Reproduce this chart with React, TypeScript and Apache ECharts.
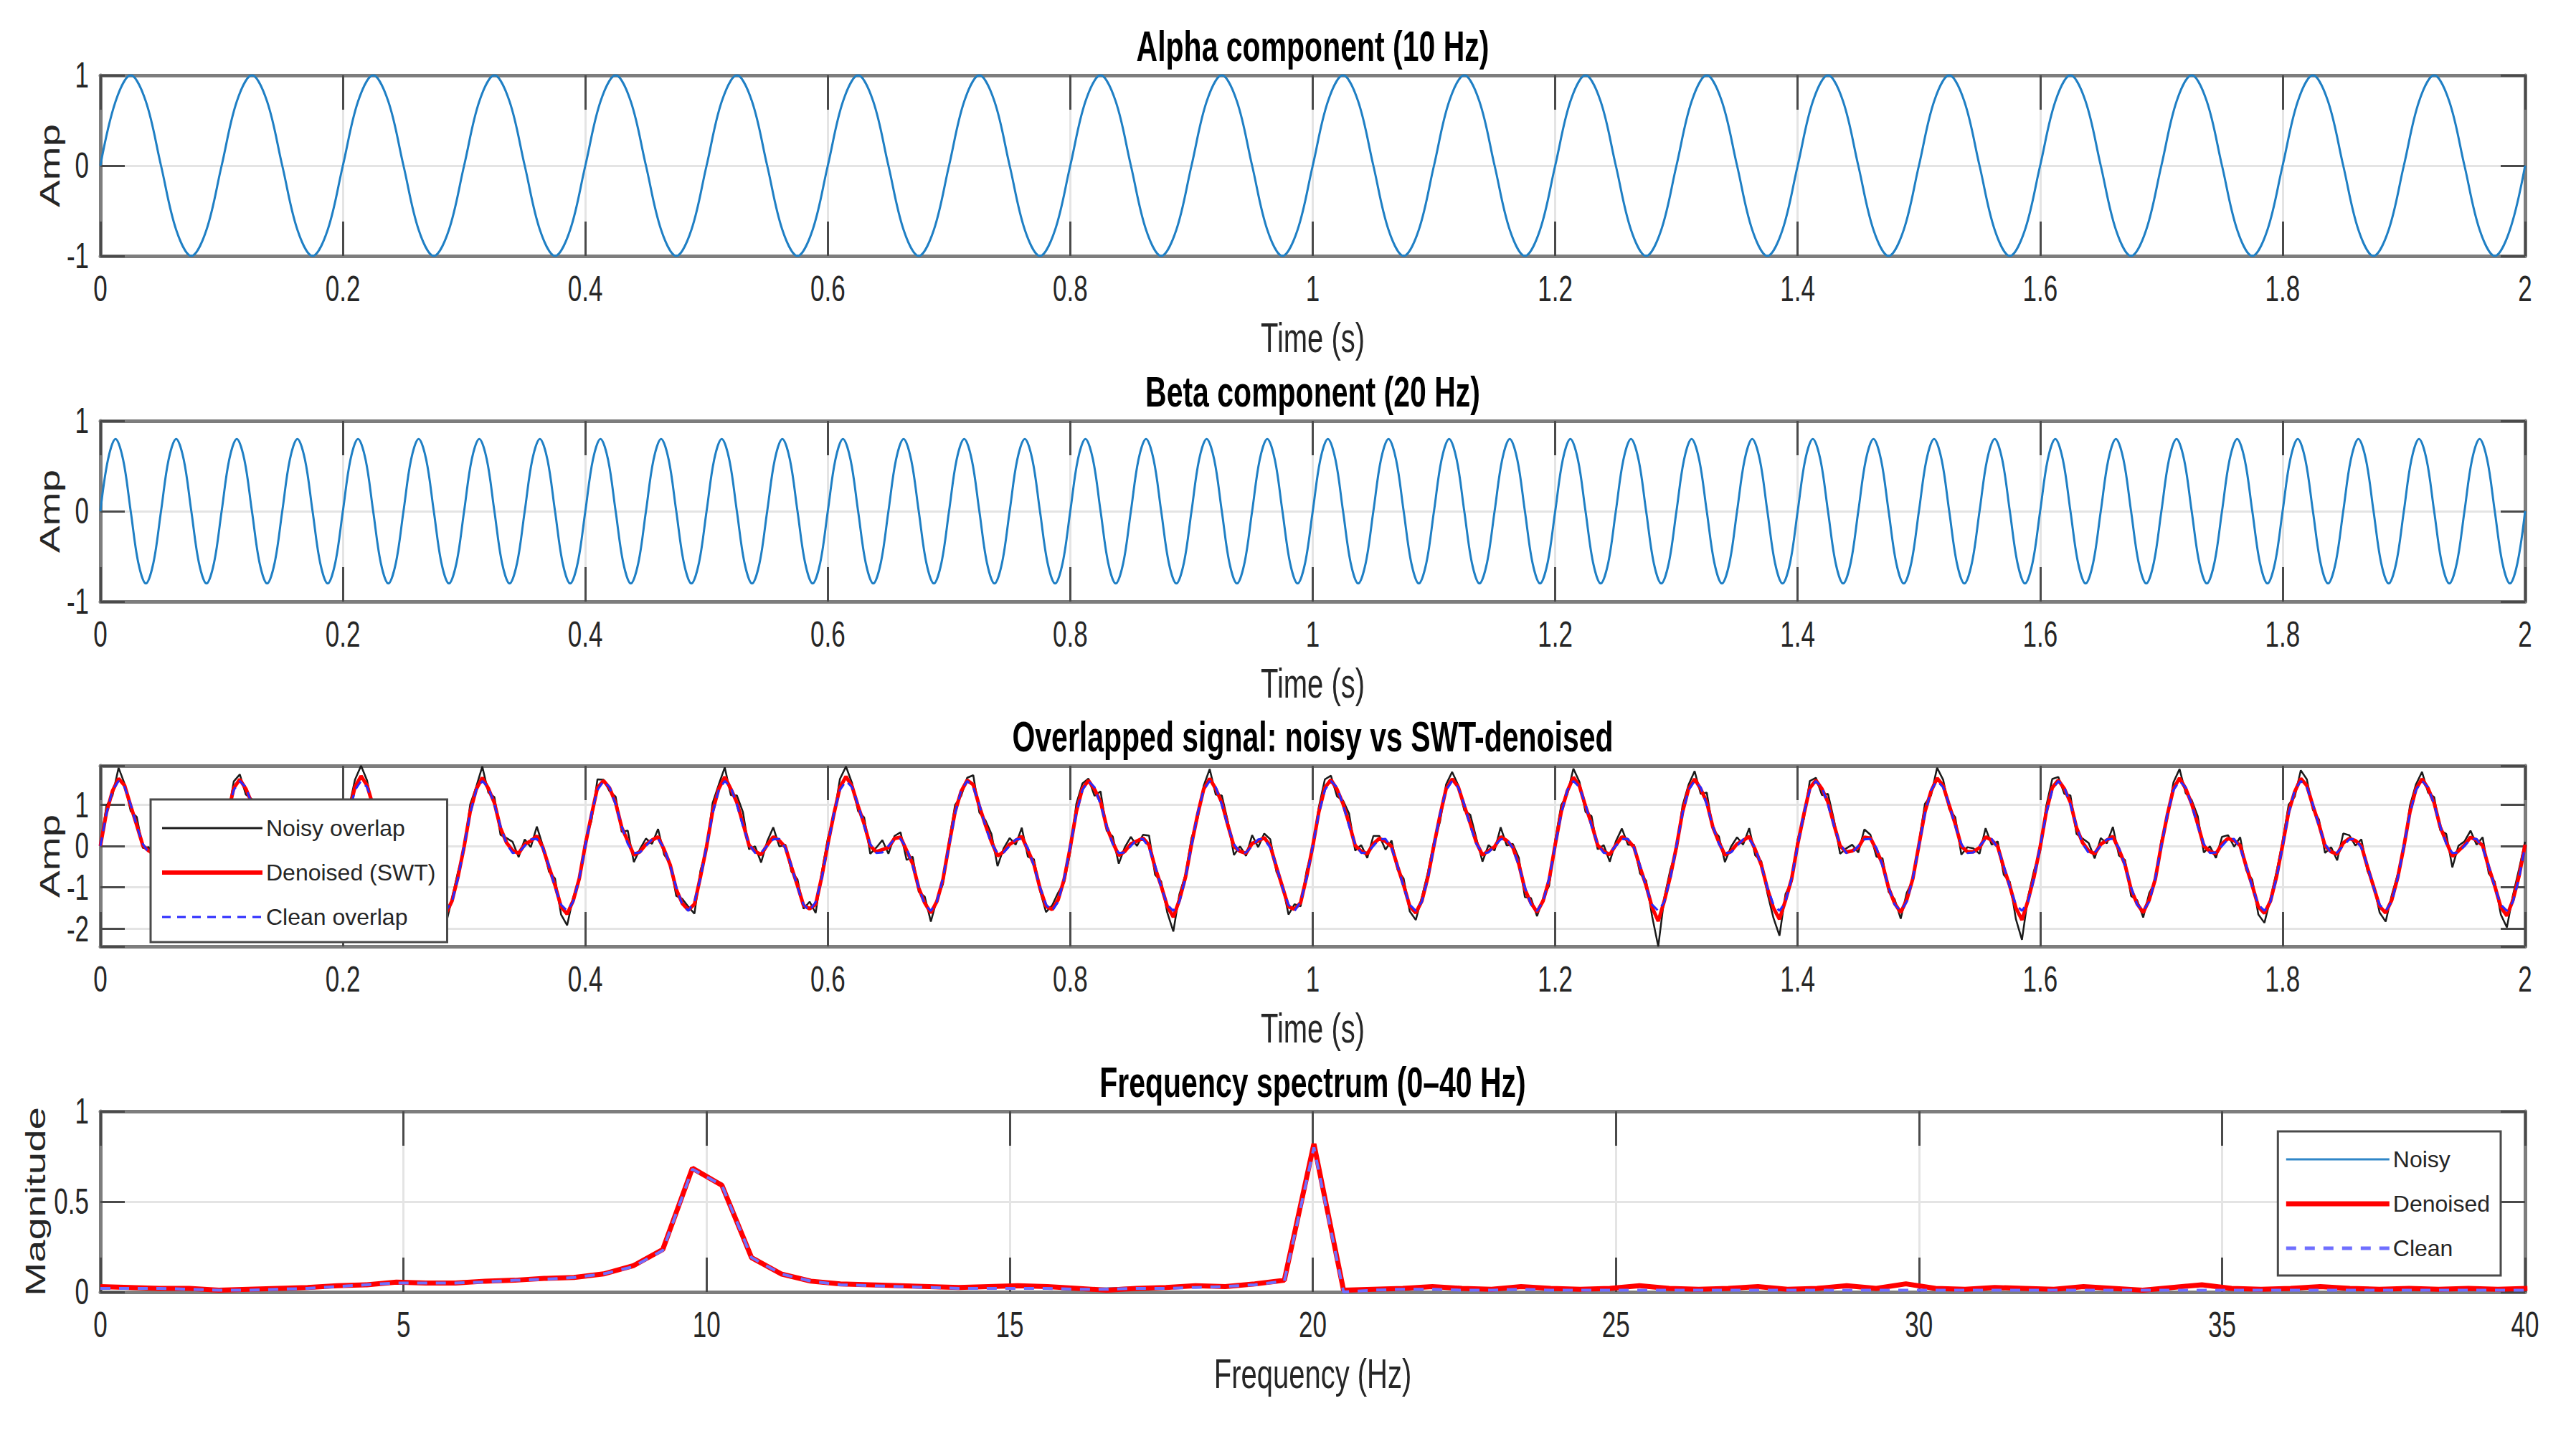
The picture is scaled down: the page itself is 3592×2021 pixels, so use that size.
import React, { useEffect, useRef } from "react";
import * as echarts from "echarts";

// ---------------- data ----------------
// Alpha component, 10 Hz, sampled every 1/8 period
const ALPHA_DT = 0.0125;
const ALPHA = [
  0,0.71,1,0.71,0,-0.71,-1,-0.71, 0,0.71,1,0.71,0,-0.71,-1,-0.71, 0,0.71,1,0.71,0,-0.71,-1,-0.71, 0,0.71,1,0.71,0,-0.71,-1,-0.71,
  0,0.71,1,0.71,0,-0.71,-1,-0.71, 0,0.71,1,0.71,0,-0.71,-1,-0.71, 0,0.71,1,0.71,0,-0.71,-1,-0.71, 0,0.71,1,0.71,0,-0.71,-1,-0.71,
  0,0.71,1,0.71,0,-0.71,-1,-0.71, 0,0.71,1,0.71,0,-0.71,-1,-0.71, 0,0.71,1,0.71,0,-0.71,-1,-0.71, 0,0.71,1,0.71,0,-0.71,-1,-0.71,
  0,0.71,1,0.71,0,-0.71,-1,-0.71, 0,0.71,1,0.71,0,-0.71,-1,-0.71, 0,0.71,1,0.71,0,-0.71,-1,-0.71, 0,0.71,1,0.71,0,-0.71,-1,-0.71,
  0,0.71,1,0.71,0,-0.71,-1,-0.71, 0,0.71,1,0.71,0,-0.71,-1,-0.71, 0,0.71,1,0.71,0,-0.71,-1,-0.71, 0,0.71,1,0.71,0,-0.71,-1,-0.71,
  0,
];

// Beta component, 20 Hz, amplitude 0.8, sampled every 1/8 period
const BETA_DT = 0.00625;
const BETA = [
  0,0.57,0.8,0.57,0,-0.57,-0.8,-0.57, 0,0.57,0.8,0.57,0,-0.57,-0.8,-0.57, 0,0.57,0.8,0.57,0,-0.57,-0.8,-0.57, 0,0.57,0.8,0.57,0,-0.57,-0.8,-0.57,
  0,0.57,0.8,0.57,0,-0.57,-0.8,-0.57, 0,0.57,0.8,0.57,0,-0.57,-0.8,-0.57, 0,0.57,0.8,0.57,0,-0.57,-0.8,-0.57, 0,0.57,0.8,0.57,0,-0.57,-0.8,-0.57,
  0,0.57,0.8,0.57,0,-0.57,-0.8,-0.57, 0,0.57,0.8,0.57,0,-0.57,-0.8,-0.57, 0,0.57,0.8,0.57,0,-0.57,-0.8,-0.57, 0,0.57,0.8,0.57,0,-0.57,-0.8,-0.57,
  0,0.57,0.8,0.57,0,-0.57,-0.8,-0.57, 0,0.57,0.8,0.57,0,-0.57,-0.8,-0.57, 0,0.57,0.8,0.57,0,-0.57,-0.8,-0.57, 0,0.57,0.8,0.57,0,-0.57,-0.8,-0.57,
  0,0.57,0.8,0.57,0,-0.57,-0.8,-0.57, 0,0.57,0.8,0.57,0,-0.57,-0.8,-0.57, 0,0.57,0.8,0.57,0,-0.57,-0.8,-0.57, 0,0.57,0.8,0.57,0,-0.57,-0.8,-0.57,
  0,0.57,0.8,0.57,0,-0.57,-0.8,-0.57, 0,0.57,0.8,0.57,0,-0.57,-0.8,-0.57, 0,0.57,0.8,0.57,0,-0.57,-0.8,-0.57, 0,0.57,0.8,0.57,0,-0.57,-0.8,-0.57,
  0,0.57,0.8,0.57,0,-0.57,-0.8,-0.57, 0,0.57,0.8,0.57,0,-0.57,-0.8,-0.57, 0,0.57,0.8,0.57,0,-0.57,-0.8,-0.57, 0,0.57,0.8,0.57,0,-0.57,-0.8,-0.57,
  0,0.57,0.8,0.57,0,-0.57,-0.8,-0.57, 0,0.57,0.8,0.57,0,-0.57,-0.8,-0.57, 0,0.57,0.8,0.57,0,-0.57,-0.8,-0.57, 0,0.57,0.8,0.57,0,-0.57,-0.8,-0.57,
  0,0.57,0.8,0.57,0,-0.57,-0.8,-0.57, 0,0.57,0.8,0.57,0,-0.57,-0.8,-0.57, 0,0.57,0.8,0.57,0,-0.57,-0.8,-0.57, 0,0.57,0.8,0.57,0,-0.57,-0.8,-0.57,
  0,0.57,0.8,0.57,0,-0.57,-0.8,-0.57, 0,0.57,0.8,0.57,0,-0.57,-0.8,-0.57, 0,0.57,0.8,0.57,0,-0.57,-0.8,-0.57, 0,0.57,0.8,0.57,0,-0.57,-0.8,-0.57,
  0,
];

// Overlapped signal, sampled every 5 ms
const OVL_DT = 0.005;
const CLEAN = [
  0,0.78,1.35,1.57,1.42,1,0.48,0.05,-0.17,-0.16,0,0.16,0.17,-0.05,-0.48,-1,-1.42,-1.57,-1.35,-0.78,
  0,0.78,1.35,1.57,1.42,1,0.48,0.05,-0.17,-0.16,0,0.16,0.17,-0.05,-0.48,-1,-1.42,-1.57,-1.35,-0.78,
  0,0.78,1.35,1.57,1.42,1,0.48,0.05,-0.17,-0.16,0,0.16,0.17,-0.05,-0.48,-1,-1.42,-1.57,-1.35,-0.78,
  0,0.78,1.35,1.57,1.42,1,0.48,0.05,-0.17,-0.16,0,0.16,0.17,-0.05,-0.48,-1,-1.42,-1.57,-1.35,-0.78,
  0,0.78,1.35,1.57,1.42,1,0.48,0.05,-0.17,-0.16,0,0.16,0.17,-0.05,-0.48,-1,-1.42,-1.57,-1.35,-0.78,
  0,0.78,1.35,1.57,1.42,1,0.48,0.05,-0.17,-0.16,0,0.16,0.17,-0.05,-0.48,-1,-1.42,-1.57,-1.35,-0.78,
  0,0.78,1.35,1.57,1.42,1,0.48,0.05,-0.17,-0.16,0,0.16,0.17,-0.05,-0.48,-1,-1.42,-1.57,-1.35,-0.78,
  0,0.78,1.35,1.57,1.42,1,0.48,0.05,-0.17,-0.16,0,0.16,0.17,-0.05,-0.48,-1,-1.42,-1.57,-1.35,-0.78,
  0,0.78,1.35,1.57,1.42,1,0.48,0.05,-0.17,-0.16,0,0.16,0.17,-0.05,-0.48,-1,-1.42,-1.57,-1.35,-0.78,
  0,0.78,1.35,1.57,1.42,1,0.48,0.05,-0.17,-0.16,0,0.16,0.17,-0.05,-0.48,-1,-1.42,-1.57,-1.35,-0.78,
  0,0.78,1.35,1.57,1.42,1,0.48,0.05,-0.17,-0.16,0,0.16,0.17,-0.05,-0.48,-1,-1.42,-1.57,-1.35,-0.78,
  0,0.78,1.35,1.57,1.42,1,0.48,0.05,-0.17,-0.16,0,0.16,0.17,-0.05,-0.48,-1,-1.42,-1.57,-1.35,-0.78,
  0,0.78,1.35,1.57,1.42,1,0.48,0.05,-0.17,-0.16,0,0.16,0.17,-0.05,-0.48,-1,-1.42,-1.57,-1.35,-0.78,
  0,0.78,1.35,1.57,1.42,1,0.48,0.05,-0.17,-0.16,0,0.16,0.17,-0.05,-0.48,-1,-1.42,-1.57,-1.35,-0.78,
  0,0.78,1.35,1.57,1.42,1,0.48,0.05,-0.17,-0.16,0,0.16,0.17,-0.05,-0.48,-1,-1.42,-1.57,-1.35,-0.78,
  0,0.78,1.35,1.57,1.42,1,0.48,0.05,-0.17,-0.16,0,0.16,0.17,-0.05,-0.48,-1,-1.42,-1.57,-1.35,-0.78,
  0,0.78,1.35,1.57,1.42,1,0.48,0.05,-0.17,-0.16,0,0.16,0.17,-0.05,-0.48,-1,-1.42,-1.57,-1.35,-0.78,
  0,0.78,1.35,1.57,1.42,1,0.48,0.05,-0.17,-0.16,0,0.16,0.17,-0.05,-0.48,-1,-1.42,-1.57,-1.35,-0.78,
  0,0.78,1.35,1.57,1.42,1,0.48,0.05,-0.17,-0.16,0,0.16,0.17,-0.05,-0.48,-1,-1.42,-1.57,-1.35,-0.78,
  0,0.78,1.35,1.57,1.42,1,0.48,0.05,-0.17,-0.16,0,0.16,0.17,-0.05,-0.48,-1,-1.42,-1.57,-1.35,-0.78,
  0,
];
// additive noise seen on the noisy trace (estimated)
const NOISE = [
  0.00,0.19,-0.13,0.32,0.08,-0.16,0.22,-0.10,0.14,-0.29,0.11,0.18,-0.06,0.24,-0.19,0.05,-0.14,0.10,-0.22,0.16,
  0.08,-0.11,0.21,0.16,-0.18,0.13,0.26,-0.14,-0.08,0.19,-0.24,0.06,0.29,-0.13,0.10,-0.21,0.14,-0.03,0.18,-0.10,
  0.06,0.14,0.25,0.37,0.16,-0.19,0.11,0.24,-0.16,0.08,-0.13,0.22,-0.18,0.10,0.19,-0.26,0.13,-0.32,0.08,0.16,
  -0.10,0.22,0.08,0.35,-0.13,0.18,-0.21,0.14,0.27,-0.11,0.16,-0.19,0.30,0.05,-0.14,0.21,-0.24,-0.35,0.11,-0.06,
  0.13,-0.18,0.26,0.03,-0.10,0.19,-0.14,0.32,-0.22,0.08,0.18,-0.11,0.24,-0.16,0.06,-0.21,0.14,0.10,-0.29,0.19,
  -0.08,0.26,0.13,0.33,-0.19,0.22,0.34,-0.13,0.16,-0.24,0.11,0.29,-0.18,0.08,-0.14,0.19,-0.10,0.22,-0.27,0.14,
  0.18,-0.06,0.27,0.35,0.10,-0.16,0.21,-0.24,0.13,0.30,-0.19,0.08,0.16,-0.29,0.22,-0.11,0.19,-0.26,0.06,-0.14,
  0.11,0.21,-0.14,0.08,0.29,-0.19,0.14,0.24,-0.32,0.10,0.19,-0.13,0.27,-0.21,0.16,-0.08,-0.18,0.13,0.22,-0.10,
  -0.14,0.24,0.16,0.06,-0.21,0.32,-0.11,0.18,-0.26,0.13,0.22,-0.16,0.10,0.30,-0.22,0.14,-0.19,-0.50,0.18,0.08,
  0.19,-0.13,0.10,0.29,-0.18,0.22,0.11,-0.27,0.16,-0.08,0.26,-0.19,0.13,0.21,-0.14,0.06,-0.24,0.16,-0.11,0.19,
  -0.06,0.16,0.26,0.13,-0.22,0.10,0.30,-0.16,0.19,-0.13,0.24,0.08,-0.26,0.18,-0.10,0.21,-0.16,-0.22,0.11,0.14,
  0.10,-0.19,0.14,0.22,0.05,-0.14,0.27,0.13,-0.21,0.18,-0.11,0.29,-0.16,0.10,0.19,-0.24,0.16,-0.13,0.08,-0.18,
  0.14,0.21,-0.10,0.30,0.13,-0.18,0.24,-0.13,0.19,-0.22,0.11,0.26,-0.14,0.08,-0.19,0.16,-0.29,-0.86,0.10,0.21,
  -0.11,0.19,0.13,0.24,-0.16,0.29,-0.08,0.18,-0.22,0.14,0.21,-0.13,0.26,-0.18,0.11,-0.14,-0.32,-0.60,0.19,-0.08,
  0.16,-0.14,0.22,0.08,-0.19,0.26,0.14,-0.24,0.11,0.19,-0.16,0.24,0.10,-0.21,0.18,-0.11,0.13,-0.19,0.22,-0.05,
  0.08,0.24,-0.13,0.32,0.18,-0.11,0.21,-0.26,0.14,0.10,-0.19,0.27,-0.14,0.16,-0.22,0.13,-0.35,-0.70,0.11,0.19,
  -0.13,0.18,0.27,0.10,-0.16,0.22,-0.19,0.13,0.24,-0.14,0.19,-0.10,0.29,-0.18,0.14,-0.21,0.11,-0.16,0.21,-0.08,
  0.14,-0.10,0.19,0.29,-0.14,0.11,0.24,-0.21,0.16,-0.13,0.22,0.10,-0.19,0.26,-0.11,0.18,-0.24,-0.29,0.08,0.16,
  0.11,0.22,-0.16,0.26,0.19,-0.13,0.16,-0.22,0.14,-0.19,0.30,0.10,-0.16,0.21,-0.13,0.08,-0.19,-0.26,0.16,0.10,
  -0.08,0.19,0.14,0.22,-0.13,0.18,-0.10,0.24,-0.35,0.16,0.11,0.21,-0.14,0.26,-0.18,0.13,-0.24,-0.40,0.16,0.22,
  0.10,
];
// residual of the SWT-denoised trace relative to the clean one (estimated)
const DEN_ERR = [
  0.00,0.03,-0.02,0.06,0.04,-0.03,0.02,-0.04,0.05,-0.06,0.03,0.04,-0.02,0.05,-0.04,0.02,-0.03,0.04,-0.05,0.03,
  0.02,-0.03,0.05,0.04,-0.04,0.03,0.06,-0.03,-0.02,0.04,-0.05,0.02,0.06,-0.03,0.02,-0.04,0.03,-0.01,0.04,-0.02,
  0.01,0.04,0.08,0.12,0.04,-0.04,0.03,0.05,-0.04,0.02,-0.03,0.05,-0.04,0.02,0.04,-0.05,0.03,-0.07,0.02,0.04,
  -0.02,0.05,0.02,0.08,-0.03,0.04,-0.05,0.03,0.06,-0.02,0.04,-0.04,0.07,0.01,-0.03,0.05,-0.05,-0.08,0.03,-0.01,
  0.03,-0.04,0.06,0.01,-0.02,0.04,-0.03,0.07,-0.05,0.02,0.04,-0.02,0.05,-0.04,0.02,-0.05,0.03,0.02,-0.06,0.04,
  -0.02,0.06,0.03,0.10,-0.04,0.05,0.07,-0.03,0.04,-0.05,0.02,0.06,-0.04,0.02,-0.03,0.04,-0.02,0.05,-0.06,0.03,
  0.04,-0.01,0.06,0.11,0.02,-0.04,0.05,-0.05,0.03,0.07,-0.04,0.02,0.04,-0.06,0.05,-0.02,0.04,-0.05,0.01,-0.03,
  0.03,0.05,-0.03,0.02,0.06,-0.04,0.03,0.05,-0.07,0.02,0.04,-0.03,0.06,-0.05,0.04,-0.02,-0.04,0.03,0.05,-0.02,
  -0.03,0.05,0.04,0.01,-0.05,0.07,-0.02,0.04,-0.06,0.03,0.05,-0.04,0.02,0.07,-0.05,0.03,-0.04,-0.15,0.04,0.02,
  0.04,-0.03,0.02,0.06,-0.04,0.05,0.02,-0.06,0.04,-0.02,0.06,-0.04,0.03,0.05,-0.03,0.01,-0.05,0.04,-0.02,0.04,
  -0.01,0.04,0.06,0.03,-0.05,0.02,0.07,-0.04,0.04,-0.03,0.05,0.02,-0.06,0.04,-0.02,0.05,-0.04,-0.05,0.02,0.03,
  0.02,-0.04,0.03,0.05,0.01,-0.03,0.06,0.03,-0.05,0.04,-0.02,0.06,-0.04,0.02,0.04,-0.05,0.04,-0.03,0.02,-0.04,
  0.03,0.05,-0.02,0.09,0.03,-0.04,0.05,-0.03,0.04,-0.05,0.02,0.06,-0.03,0.02,-0.04,0.04,-0.07,-0.25,0.02,0.05,
  -0.02,0.04,0.03,0.05,-0.04,0.06,-0.02,0.04,-0.05,0.03,0.05,-0.03,0.06,-0.04,0.02,-0.03,-0.08,-0.20,0.04,-0.02,
  0.04,-0.03,0.05,0.02,-0.04,0.06,0.03,-0.05,0.02,0.04,-0.04,0.05,0.02,-0.05,0.04,-0.02,0.03,-0.04,0.05,-0.01,
  0.02,0.05,-0.03,0.07,0.04,-0.02,0.05,-0.06,0.03,0.02,-0.04,0.06,-0.03,0.04,-0.05,0.03,-0.08,-0.22,0.03,0.04,
  -0.03,0.04,0.06,0.02,-0.04,0.05,-0.04,0.03,0.05,-0.03,0.04,-0.02,0.06,-0.04,0.03,-0.05,0.02,-0.04,0.05,-0.02,
  0.03,-0.02,0.04,0.07,-0.03,0.02,0.05,-0.05,0.04,-0.03,0.05,0.02,-0.04,0.06,-0.02,0.04,-0.05,-0.06,0.02,0.04,
  0.02,0.05,-0.04,0.06,0.04,-0.03,0.04,-0.05,0.03,-0.04,0.07,0.02,-0.04,0.05,-0.03,0.02,-0.04,-0.05,0.04,0.02,
  -0.02,0.04,0.03,0.05,-0.03,0.04,-0.02,0.05,-0.08,0.04,0.02,0.05,-0.03,0.06,-0.04,0.03,-0.06,-0.12,0.04,0.05,
  0.03,
];

// Spectrum magnitude, bins spaced 250/512 Hz
const SPEC_DF = 250 / 512;
const SPEC_NOISY = [
  0.025,0.03,0.015,0.02,0.015,0.01,0.02,0.03,0.03,0.045,
  0.05,0.055,0.045,0.06,0.07,0.07,0.085,0.10,0.14,0.24,
  0.68,0.60,0.185,0.105,0.065,0.04,0.04,0.03,0.035,0.02,
  0.025,0.03,0.035,0.015,0.02,0.025,0.02,0.03,0.035,0.04,
  0.06,0.81,0.015,0.02,0.015,0.025,0.02,0.02,0.025,0.015,
  0.02,0.015,0.03,0.025,0.01,0.025,0.025,0.02,0.015,0.03,
  0.025,0.04,0.015,0.02,0.02,0.025,0.01,0.025,0.025,0.015,
  0.02,0.035,0.025,0.01,0.025,0.025,0.015,0.02,0.015,0.02,
  0.015,0.02,0.015,
];
const SPEC_DENOISED = [
  0.03,0.025,0.02,0.02,0.01,0.015,0.02,0.025,0.035,0.04,
  0.055,0.05,0.05,0.06,0.065,0.075,0.08,0.10,0.145,0.235,
  0.685,0.59,0.19,0.10,0.06,0.045,0.04,0.035,0.03,0.025,
  0.03,0.035,0.03,0.02,0.01,0.02,0.025,0.035,0.03,0.045,
  0.065,0.82,0.01,0.015,0.02,0.03,0.02,0.015,0.03,0.02,
  0.015,0.02,0.035,0.02,0.015,0.02,0.03,0.015,0.02,0.035,
  0.02,0.045,0.02,0.015,0.025,0.02,0.015,0.03,0.02,0.01,
  0.025,0.04,0.02,0.015,0.02,0.03,0.02,0.015,0.02,0.015,
  0.02,0.015,0.02,
];
const SPEC_CLEAN = [
  0.02,0.02,0.02,0.015,0.01,0.01,0.015,0.02,0.03,0.04,
  0.05,0.05,0.05,0.055,0.065,0.07,0.08,0.10,0.14,0.23,
  0.68,0.59,0.19,0.10,0.06,0.04,0.035,0.03,0.025,0.02,
  0.02,0.02,0.02,0.015,0.015,0.02,0.02,0.025,0.03,0.04,
  0.06,0.80,0.00,0.01,0.015,0.015,0.01,0.01,0.015,0.01,
  0.01,0.01,0.01,0.01,0.01,0.01,0.01,0.01,0.01,0.01,
  0.01,0.01,0.01,0.01,0.01,0.01,0.01,0.01,0.01,0.01,
  0.01,0.01,0.01,0.01,0.01,0.01,0.01,0.01,0.01,0.01,
  0.01,0.01,0.01,
];

// ticks and texts
const TIME_TICKS = [0, 0.2, 0.4, 0.6, 0.8, 1, 1.2, 1.4, 1.6, 1.8, 2];
const TIME_TICK_LABELS = ["0", "0.2", "0.4", "0.6", "0.8", "1", "1.2", "1.4", "1.6", "1.8", "2"];
const AMP_TICKS = [-1, 0, 1];
const AMP_TICK_LABELS = ["-1", "0", "1"];
const OVL_TICKS = [-2, -1, 0, 1];
const OVL_TICK_LABELS = ["-2", "-1", "0", "1"];
const FREQ_TICKS = [0, 5, 10, 15, 20, 25, 30, 35, 40];
const FREQ_TICK_LABELS = ["0", "5", "10", "15", "20", "25", "30", "35", "40"];
const MAG_TICKS = [0, 0.5, 1];
const MAG_TICK_LABELS = ["0", "0.5", "1"];

const TITLES = [
  "Alpha component (10 Hz)",
  "Beta component (20 Hz)",
  "Overlapped signal: noisy vs SWT-denoised",
  "Frequency spectrum (0\u201340 Hz)",
];
const X_NAMES = ["Time (s)", "Time (s)", "Time (s)", "Frequency (Hz)"];
const Y_NAMES = ["Amp", "Amp", "Amp", "Magnitude"];
const LEGEND_OVL = ["Noisy overlap", "Denoised (SWT)", "Clean overlap"];
const LEGEND_SPEC = ["Noisy", "Denoised", "Clean"];

// ---------------- layout / style ----------------
const W = 3592;
const H = 2021;
const GRID_LEFT = 140;
const GRID_RIGHT = 71;
const GRID_TOPS = [105, 587, 1068, 1550];
const GRID_H = 252;
const FONT = "'Liberation Sans', Arial, Helvetica, sans-serif";
const STRETCH = 1.45; // text in the reference is vertically stretched
const Y_NAME_X = [69, 69, 69, 49];

const PANELS = [
  { xMin: 0, xMax: 2, xInt: 0.2, yMin: -1, yMax: 1, yInt: 1, xTicks: TIME_TICKS, xLabels: TIME_TICK_LABELS, yTicks: AMP_TICKS, yLabels: AMP_TICK_LABELS },
  { xMin: 0, xMax: 2, xInt: 0.2, yMin: -1, yMax: 1, yInt: 1, xTicks: TIME_TICKS, xLabels: TIME_TICK_LABELS, yTicks: AMP_TICKS, yLabels: AMP_TICK_LABELS },
  { xMin: 0, xMax: 2, xInt: 0.2, yMin: -2.43, yMax: 1.94, yInt: null as number | null, xTicks: TIME_TICKS, xLabels: TIME_TICK_LABELS, yTicks: OVL_TICKS, yLabels: OVL_TICK_LABELS },
  { xMin: 0, xMax: 40, xInt: 5, yMin: 0, yMax: 1, yInt: 0.5, xTicks: FREQ_TICKS, xLabels: FREQ_TICK_LABELS, yTicks: MAG_TICKS, yLabels: MAG_TICK_LABELS },
];

const BORDER = "#7d7d7d";
const TICK = "#4a4a4a";
const GRIDLINE = "#e4e4e4";

const C_SINE = "#1f7fc4";
const C_NOISY = "#1a1a1a";
const C_RED = "#ff0000";
const C_CLEAN = "#2a2aff";
const C_SNOISY = "#2f86c8";
const C_SCLEAN = "#6f6fff";

function buildOption(): any {
  const grid: any[] = [];
  const xAxis: any[] = [];
  const yAxis: any[] = [];
  PANELS.forEach((p, i) => {
    grid.push({ left: GRID_LEFT, right: GRID_RIGHT, top: GRID_TOPS[i], height: GRID_H, containLabel: false });
    const xBase: any = {
      type: "value",
      gridIndex: i,
      min: p.xMin,
      max: p.xMax,
      interval: p.xInt,
      axisLine: { show: true, onZero: false, lineStyle: { color: BORDER, width: 5 } },
      axisTick: { show: true, inside: true, length: 48, lineStyle: { color: TICK, width: 3 } },
      axisLabel: { show: false },
    };
    xAxis.push({ ...xBase, position: "bottom", splitLine: { show: true, lineStyle: { color: GRIDLINE, width: 3 } } });
    xAxis.push({ ...xBase, position: "top", splitLine: { show: false } });
    const yBase: any = {
      type: "value",
      gridIndex: i,
      min: p.yMin,
      max: p.yMax,
      axisLine: { show: true, onZero: false, lineStyle: { color: BORDER, width: 5 } },
      axisTick: { show: true, inside: true, length: 34, lineStyle: { color: TICK, width: 3 } },
      axisLabel: { show: false },
    };
    if (p.yInt !== null) yBase.interval = p.yInt;
    else yBase.splitNumber = 4;
    yAxis.push({ ...yBase, position: "left", splitLine: { show: true, lineStyle: { color: GRIDLINE, width: 3 } } });
    yAxis.push({ ...yBase, position: "right", splitLine: { show: false } });
  });

  const tOf = (i: number, dt: number) => Math.round(i * dt * 100000) / 100000;
  const alphaData = ALPHA.map((v, i) => [tOf(i, ALPHA_DT), v]);
  const betaData = BETA.map((v, i) => [tOf(i, BETA_DT), v]);
  const cleanData = CLEAN.map((v, i) => [tOf(i, OVL_DT), v]);
  const noisyData = CLEAN.map((v, i) => [tOf(i, OVL_DT), Math.round((v + (NOISE[i] ?? 0)) * 100) / 100]);
  const denData = CLEAN.map((v, i) => [tOf(i, OVL_DT), Math.round((v + (DEN_ERR[i] ?? 0)) * 100) / 100]);
  const fOf = (k: number) => Math.round(k * SPEC_DF * 10000) / 10000;
  const sNoisy = SPEC_NOISY.map((v, k) => [fOf(k), v]);
  const sDen = SPEC_DENOISED.map((v, k) => [fOf(k), v]);
  const sClean = SPEC_CLEAN.map((v, k) => [fOf(k), v]);

  const line = (name: string, ax: number, data: any[], color: string, width: number, extra: any = {}) => ({
    type: "line",
    name,
    xAxisIndex: ax,
    yAxisIndex: ax,
    data,
    symbol: "none",
    showSymbol: false,
    silent: true,
    clip: true,
    itemStyle: { color },
    lineStyle: { color, width, ...(extra.lineStyle || {}) },
    smooth: extra.smooth || false,
    z: extra.z || 2,
  });

  const series = [
    line("Alpha", 0, alphaData, C_SINE, 3, { smooth: 0.35 }),
    line("Beta", 2, betaData, C_SINE, 3, { smooth: 0.35 }),
    line(LEGEND_OVL[0], 4, noisyData, C_NOISY, 2.5, { z: 2 }),
    line(LEGEND_OVL[1], 4, denData, C_RED, 5, { z: 3 }),
    line(LEGEND_OVL[2], 4, cleanData, C_CLEAN, 3, { z: 4, lineStyle: { type: [12, 9] } }),
    line(LEGEND_SPEC[0], 6, sNoisy, C_SNOISY, 3, { z: 2 }),
    line(LEGEND_SPEC[1], 6, sDen, C_RED, 7, { z: 3 }),
    line(LEGEND_SPEC[2], 6, sClean, C_SCLEAN, 4, { z: 4, lineStyle: { type: [14, 12] } }),
  ];

  const legendBase: any = {
    orient: "vertical",
    selectedMode: false,
    backgroundColor: "#ffffff",
    borderColor: "#4a4a4a",
    borderWidth: 3,
    itemHeight: 40,
    itemGap: 22,
    itemStyle: { opacity: 0 },
    textStyle: { fontSize: 32, lineHeight: 40, fontFamily: FONT, color: "#262626" },
    z: 10,
  };

  return {
    animation: false,
    backgroundColor: "#ffffff",
    textStyle: { fontFamily: FONT },
    grid,
    xAxis,
    yAxis,
    legend: [
      {
        ...legendBase,
        data: [
          { name: LEGEND_OVL[0], lineStyle: { width: 3, color: C_NOISY } },
          { name: LEGEND_OVL[1], lineStyle: { width: 6, color: C_RED } },
          { name: LEGEND_OVL[2], lineStyle: { width: 3, color: C_CLEAN, type: [12, 9] } },
        ],
        left: 210,
        top: 1115,
        itemWidth: 140,
        padding: [20, 16, 15, 13],
      },
      {
        ...legendBase,
        data: [
          { name: LEGEND_SPEC[0], lineStyle: { width: 3, color: C_SNOISY } },
          { name: LEGEND_SPEC[1], lineStyle: { width: 7, color: C_RED } },
          { name: LEGEND_SPEC[2], lineStyle: { width: 5, color: C_SCLEAN, type: [14, 12] } },
        ],
        right: 105,
        top: 1578,
        itemWidth: 144,
        padding: [19, 15, 18, 8],
      },
    ],
    series,
  };
}

function txt(text: string, x: number, y: number, o: any = {}) {
  return {
    type: "text",
    x,
    y,
    scaleY: STRETCH,
    silent: true,
    z: 100,
    style: {
      text,
      fontSize: o.fontSize || 35,
      fontWeight: o.fontWeight || "normal",
      fontFamily: FONT,
      fill: o.fill || "#262626",
      textAlign: o.textAlign || "center",
      textVerticalAlign: "middle",
    },
  };
}

function buildTexts(chart: any): any[] {
  const els: any[] = [];
  const cx = (GRID_LEFT + (W - GRID_RIGHT)) / 2;
  PANELS.forEach((p, i) => {
    const top = GRID_TOPS[i];
    const bottom = top + GRID_H;
    els.push(txt(TITLES[i], cx, top - 40, { fontSize: 41, fontWeight: "bold", fill: "#000000" }));
    p.xTicks.forEach((v, j) => {
      const x = chart.convertToPixel({ xAxisIndex: 2 * i }, v);
      els.push(txt(p.xLabels[j], x, bottom + 46, { fontSize: 35 }));
    });
    p.yTicks.forEach((v, j) => {
      const y = chart.convertToPixel({ yAxisIndex: 2 * i }, v);
      els.push(txt(p.yLabels[j], GRID_LEFT - 16, y, { fontSize: 35, textAlign: "right" }));
    });
    els.push(txt(X_NAMES[i], cx, bottom + 114, { fontSize: 40 }));
    els.push({
      type: "text",
      x: Y_NAME_X[i],
      y: top + GRID_H / 2,
      rotation: Math.PI / 2,
      scaleX: STRETCH,
      silent: true,
      z: 100,
      style: {
        text: Y_NAMES[i],
        fontSize: 39,
        fontFamily: FONT,
        fill: "#262626",
        textAlign: "center",
        textVerticalAlign: "middle",
      },
    });
  });
  return els;
}

export default function App() {
  const ref = useRef<HTMLDivElement>(null);
  useEffect(() => {
    const el = ref.current;
    if (!el) return;
    const chart = echarts.init(el, null, { renderer: "svg", width: W, height: H });
    chart.setOption(buildOption());
    chart.setOption({ graphic: { elements: buildTexts(chart) } });
    return () => {
      chart.dispose();
    };
  }, []);
  return (
    <div
      ref={ref}
      style={{ position: "fixed", left: 0, top: 0, width: W, height: H, background: "#ffffff" }}
    />
  );
}
